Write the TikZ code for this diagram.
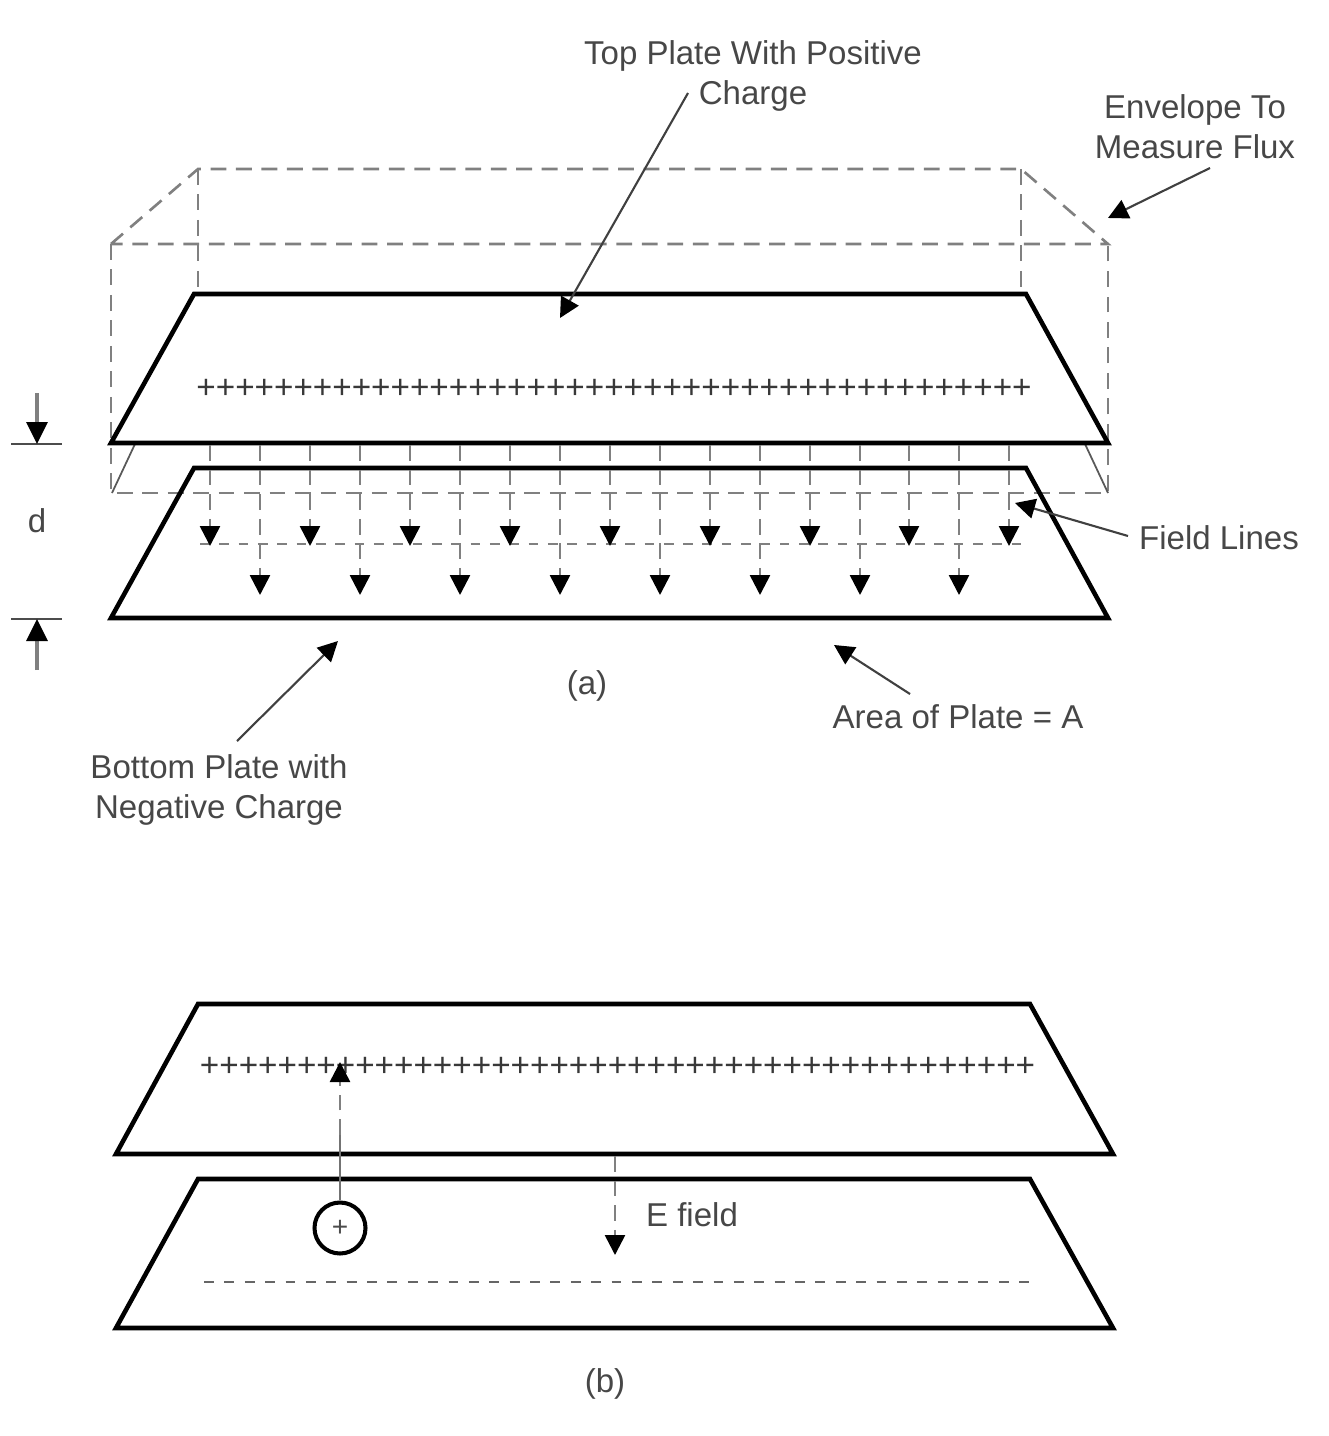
\documentclass[tikz,border=0pt]{standalone}
\usepackage{fontspec}
\setmainfont{Liberation Sans}
\usetikzlibrary{calc,arrows.meta}
\usepackage{xcolor}

\newcommand{\plusrow}{+++++++++++++++++++++++++++++++++++++++++++}

\tikzset{
  plate/.style = {line width=2.6pt, line join=miter},
  envelope/.style = {line width=1.5pt, black!50, dash pattern=on 9pt off 5.5pt},
  fieldline/.style = {line width=1.5pt, black!50, dash pattern=on 9pt off 5pt, -{Triangle[length=4mm,width=4mm,black]}},
  leader/.style = {line width=1.2pt, black!75, -{Triangle[length=4mm,width=4mm,black]}},
  dimline/.style = {line width=1.8pt, black!50, -{Triangle[length=4.4mm,width=4.2mm,black]}},
  label/.style = {text=black!72, font=\fontsize{18.8}{22.7}\selectfont, align=center, inner sep=4pt},
  pluses/.style = {text=black!78, font=\fontsize{18.93}{22}\selectfont, inner sep=0pt}
}

\begin{document}
\begin{tikzpicture}[x=0.02cm, y=-0.02cm]

\useasboundingbox (0,0) rectangle (1328,1436);

\draw[envelope] (111,244) -- (198,169) -- (1021,169) -- (1108,244) -- cycle;
\draw[envelope] (198,169) -- (198,294);
\draw[envelope] (1021,169) -- (1021,294);
\draw[envelope] (111,244) -- (111,493) -- (1108,493) -- (1108,244);
\draw[line width=1pt, black!65] (135,444) -- (112,493);
\draw[line width=1pt, black!65] (1085,444) -- (1108,493);
\draw[envelope, line width=1.7pt, dash pattern=on 5.5pt off 5.5pt] (200,544) -- (1027,544);

\draw[plate] (194,294) -- (1026,294) -- (1108,443) -- (111,443) -- cycle;
\draw[plate] (194,468) -- (1026,468) -- (1108,618) -- (111,618) -- cycle;

\node[pluses] (plusesa) at (614,389) {\plusrow};

\draw[fieldline] (210,445) -- (210,546);
\draw[fieldline] (260,445) -- (260,595);
\draw[fieldline] (310,445) -- (310,546);
\draw[fieldline] (360,445) -- (360,595);
\draw[fieldline] (410,445) -- (410,546);
\draw[fieldline] (460,445) -- (460,595);
\draw[fieldline] (510,445) -- (510,546);
\draw[fieldline] (560,445) -- (560,595);
\draw[fieldline] (610,445) -- (610,546);
\draw[fieldline] (660,445) -- (660,595);
\draw[fieldline] (710,445) -- (710,546);
\draw[fieldline] (760,445) -- (760,595);
\draw[fieldline] (810,445) -- (810,546);
\draw[fieldline] (860,445) -- (860,595);
\draw[fieldline] (909,445) -- (909,546);
\draw[fieldline] (959,445) -- (959,595);
\draw[fieldline] (1009,445) -- (1009,546);

\coordinate (dtop) at (37,444);
\coordinate (dbottom) at (37,619);
\coordinate (dtopfree) at (37,393);
\coordinate (dbottomfree) at (37,670);
\draw[line width=1.2pt, black!70] (11,444) -- (62,444);
\draw[line width=1.2pt, black!70] (11,619) -- (62,619);
\draw[dimline] (dtopfree) -- (dtop);
\draw[dimline] (dbottomfree) -- (dbottom);
\node[label] (dlabel) at (37,521) {d};

\node[label] (toplabel) at (753,76) {Top Plate With Positive\\Charge};
\node[label] (envlabel) at (1195,127) {Envelope To\\Measure Flux};
\node[label] (fieldlabel) at (1219,538) {Field Lines};
\node[label] (bottomlabel) at (219,790) {Bottom Plate with\\Negative Charge};
\node[label] (arealabel) at (958,717) {Area of Plate = A};
\node[label] (alabel) at (587,686) {(a)};

\coordinate (topstart) at (688,93);
\coordinate (toptip) at (560,318);
\coordinate (envstart) at (1210,168);
\coordinate (envtip) at (1108,218);
\coordinate (fieldstart) at (1128,536);
\coordinate (fieldtip) at (1015,503);
\coordinate (bottomstart) at (237,741);
\coordinate (bottomtip) at (338,641);
\coordinate (areastart) at (910,694);
\coordinate (areatip) at (834,645);
\draw[leader] (topstart) -- (toptip);
\draw[leader] (envstart) -- (envtip);
\draw[leader] (fieldstart) -- (fieldtip);
\draw[leader] (bottomstart) -- (bottomtip);
\draw[leader] (areastart) -- (areatip);

\draw[plate] (198,1004) -- (1030,1004) -- (1113,1154) -- (116,1154) -- cycle;
\draw[plate] (198,1179) -- (1030,1179) -- (1113,1328) -- (116,1328) -- cycle;

\node[pluses] (plusesb) at (617.5,1067) {\plusrow};
\draw[line width=1.6pt, black!60, dash pattern=on 5.6pt off 6pt] (204,1282) -- (1030,1282);

\node[circle, draw, line width=2.3pt, minimum size=1.02cm, inner sep=0pt, text=black!70, font=\fontsize{16}{16}\selectfont] (charge) at (340,1228) {+};
\coordinate (chargemid) at (340,1135);
\coordinate (chargetip) at (340,1062);
\draw[line width=1.4pt, black!55] (charge) -- (chargemid);
\draw[fieldline] (chargemid) -- (chargetip);

\coordinate (efieldstart) at (615,1156);
\coordinate (efieldtip) at (615,1255);
\draw[fieldline] (efieldstart) -- (efieldtip);
\node[label] (efieldlabel) at (692,1215) {E field};
\node[label] (blabel) at (605,1384) {(b)};

\end{tikzpicture}
\end{document}
